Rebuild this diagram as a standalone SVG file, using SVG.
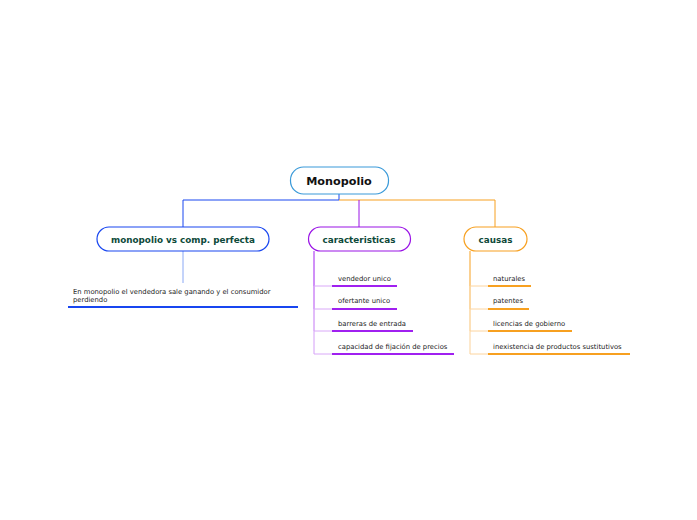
<svg xmlns="http://www.w3.org/2000/svg" width="697" height="520" viewBox="0 0 697 520">
<style>
.node{fill:#fff;stroke-width:1.2}
.title{font-family:"DejaVu Sans",Verdana,sans-serif;font-weight:bold;fill:#0e4a3a;text-anchor:middle}
.leaf{font-family:"DejaVu Sans",Verdana,sans-serif;font-size:6.8px;fill:#222}
.c{fill:none;stroke-width:1}
.u{fill:none;stroke-width:2}
</style>
<rect width="697" height="520" fill="#fff"/>
<g id="connectors">
<path class="c" d="M339 194V200H183V227" stroke="#1846f0"/>
<path class="c" d="M339 200H495V227" stroke="#f7a020"/>
<path class="c" d="M359 200V227" stroke="#9a14e6"/>
<path class="c" d="M183 251V283" stroke="#8aa8f5"/>
<path class="c" d="M314 251V286" stroke="#a020f0"/>
<path class="c" d="M314 286V309" stroke="#b44cf2"/>
<path class="c" d="M314 309V331" stroke="#c478f4"/>
<path class="c" d="M314 331V354" stroke="#d49ef8"/>
<path class="c" d="M314 286H332M314 309H332M314 331H332M314 354H332" stroke="#d9a8f8"/>
<path class="c" d="M470 251V286" stroke="#f7a020"/>
<path class="c" d="M470 286V309" stroke="#f8b24c"/>
<path class="c" d="M470 309V331" stroke="#f9c272"/>
<path class="c" d="M470 331V354" stroke="#fbd29a"/>
<path class="c" d="M470 286H488M470 309H488M470 331H488M470 354H488" stroke="#fcd49e"/>
</g>
<g id="root">
<rect class="node" x="290.5" y="167" width="98" height="27" rx="13" stroke="#3a9ad9"/>
<text class="title" x="339" y="185" font-size="11.2" style="fill:#111">Monopolio</text>
</g>
<g id="n1">
<rect class="node" x="97" y="227" width="172" height="24" rx="12" stroke="#1846f0"/>
<text class="title" x="183" y="243" font-size="8.8">monopolio vs comp. perfecta</text>
</g>
<g id="n2">
<rect class="node" x="308.5" y="227" width="102" height="24" rx="12" stroke="#9a14e6"/>
<text class="title" x="359" y="243" font-size="8.8">caracteristicas</text>
</g>
<g id="n3">
<rect class="node" x="464" y="227" width="63" height="24" rx="12" stroke="#f7a020"/>
<text class="title" x="495.5" y="243" font-size="8.8">causas</text>
</g>
<g id="n1a">
<text class="leaf" x="73" y="294">En monopolio el vendedora sale ganando y el consumidor</text>
<text class="leaf" x="73" y="302">perdiendo</text>
<path class="u" d="M68 307H298" stroke="#1846f0"/>
</g>
<g id="n2a"><text class="leaf" x="338" y="281">vendedor unico</text><path class="u" d="M332 286H397" stroke="#a020f0"/></g>
<g id="n2b"><text class="leaf" x="338" y="303">ofertante unico</text><path class="u" d="M332 309H397" stroke="#a020f0"/></g>
<g id="n2c"><text class="leaf" x="338" y="326">barreras de entrada</text><path class="u" d="M332 331H413" stroke="#a020f0"/></g>
<g id="n2d"><text class="leaf" x="338" y="349">capacidad de fijación de precios</text><path class="u" d="M332 354H454" stroke="#a020f0"/></g>
<g id="n3a"><text class="leaf" x="493" y="281">naturales</text><path class="u" d="M488 286H531" stroke="#f7a020"/></g>
<g id="n3b"><text class="leaf" x="493" y="303">patentes</text><path class="u" d="M488 309H529" stroke="#f7a020"/></g>
<g id="n3c"><text class="leaf" x="493" y="326">licencias de gobierno</text><path class="u" d="M488 331H572" stroke="#f7a020"/></g>
<g id="n3d"><text class="leaf" x="493" y="349">inexistencia de productos sustitutivos</text><path class="u" d="M488 354H630" stroke="#f7a020"/></g>
</svg>
